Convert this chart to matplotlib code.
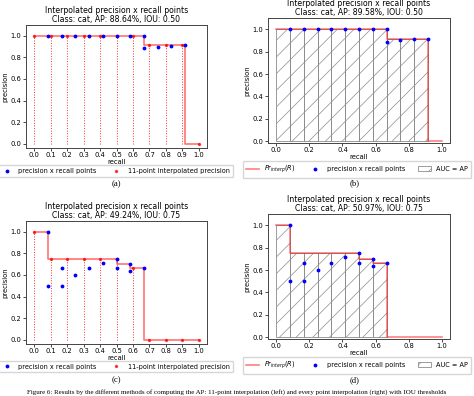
import numpy as np
import matplotlib
matplotlib.use('Agg')
import matplotlib.pyplot as plt

# ranked detections of class "cat" (12 ground truth boxes)
recall_iou50 = [0.0833, 0.1667, 0.25, 0.3333, 0.4167, 0.5, 0.5833, 0.6667,
                0.6667, 0.75, 0.8333, 0.9167]
precision_iou50 = [1.0, 1.0, 1.0, 1.0, 1.0, 1.0, 1.0, 1.0,
                   0.8889, 0.9, 0.9091, 0.9167]

recall_iou75 = [0.0833, 0.0833, 0.1667, 0.1667, 0.25, 0.3333, 0.4167, 0.5,
                0.5, 0.5833, 0.5833, 0.6667]
precision_iou75 = [1.0, 0.5, 0.6667, 0.5, 0.6, 0.6667, 0.7143, 0.75,
                   0.6667, 0.7, 0.6364, 0.6667]

ap_labels = ['88.64%', '89.58%', '49.24%', '50.97%']
iou_labels = ['0.50', '0.50', '0.75', '0.75']
panel_labels = ['(a)', '(b)', '(c)', '(d)']
eleven_ticks = [0.0, 0.1, 0.2, 0.3, 0.4, 0.5, 0.6, 0.7, 0.8, 0.9, 1.0]
ytick_vals = [0.0, 0.2, 0.4, 0.6, 0.8, 1.0]

plt.rcParams['hatch.linewidth'] = 0.5

TICK_FS = 4.9
TITLE_FS = 5.6
LEG_FS = 4.7


def interpCurve(rec, prec):
	rec = np.asarray(rec)
	prec = np.asarray(prec)
	ur = np.unique(rec)
	pi = np.array([prec[rec >= r].max() for r in ur])
	x = np.concatenate([[0.0], ur, [1.0]])
	y = np.concatenate([pi, [0.0, 0.0]])
	return x, y


def elevenPoint(rec, prec):
	rec = np.asarray(rec)
	prec = np.asarray(prec)
	vals = []
	for r in eleven_ticks:
		mask = rec >= r - 1e-9
		vals.append(prec[mask].max() if mask.any() else 0.0)
	return np.array(eleven_ticks), np.array(vals)


def styleAxes(ax, title):
	ax.set_title('Interpolated precision x recall points\n' + title,
		fontsize=TITLE_FS, pad=2, linespacing=1.1)
	ax.set_xlabel('recall', fontsize=TICK_FS, labelpad=0.5)
	ax.set_ylabel('precision', fontsize=TICK_FS, labelpad=1.5)
	ax.set_yticks(ytick_vals)
	ax.tick_params(labelsize=TICK_FS, length=2, width=0.5, pad=1.2)
	for s in ax.spines.values():
		s.set_linewidth(0.7)
		s.set_color('#444444')


def plotEleven(ax, rec, prec, title, legCenter):
	x, y = interpCurve(rec, prec)
	ax.plot(x, y, color='red', alpha=0.55, lw=1.2, drawstyle='steps-post')
	r11, p11 = elevenPoint(rec, prec)
	ax.vlines(r11, 0, p11, colors='red', linestyles=':', lw=0.7, alpha=0.8)
	ax.plot(rec, prec, '.', color='blue', ms=3.5,
		label='precision x recall points', zorder=4)
	ax.plot(r11, p11, '.', color='red', ms=2.8, alpha=0.7,
		label='11-point interpolated precision', zorder=3)
	ax.set_xticks(eleven_ticks)
	ax.set_xlim(-0.05, 1.05)
	ax.set_ylim(-0.04, 1.1)
	styleAxes(ax, title)
	ax.legend(loc='center', bbox_to_anchor=legCenter,
		bbox_transform=ax.figure.transFigure, ncol=2, fontsize=LEG_FS,
		borderpad=0.45, handletextpad=0.8, columnspacing=2.0,
		frameon=True, fancybox=True)


def plotEvery(ax, rec, prec, title, legCenter):
	x, y = interpCurve(rec, prec)
	bars = ax.bar(x[:-2], y[:-2], width=np.diff(x)[:-1], align='edge',
		fill=False, edgecolor='#8c8c8c', hatch='//', lw=0.6,
		label='AUC = AP', zorder=1)
	line, = ax.plot(x, y, color='red', alpha=0.5, lw=1.2,
		drawstyle='steps-post', label=r'$Pr_{interp}(R)$', zorder=2)
	pts, = ax.plot(rec, prec, '.', color='blue', ms=3.5,
		label='precision x recall points', zorder=4)
	ax.set_xlim(-0.05, 1.05)
	ax.set_ylim(-0.015, 1.1)
	ax.set_xticks([0.0, 0.2, 0.4, 0.6, 0.8, 1.0])
	styleAxes(ax, title)
	ax.legend([line, pts, bars], [line.get_label(), pts.get_label(), 'AUC = AP'],
		loc='center', bbox_to_anchor=legCenter,
		bbox_transform=ax.figure.transFigure, ncol=3, fontsize=LEG_FS,
		borderpad=0.45, handletextpad=0.8, columnspacing=2.0,
		frameon=True, fancybox=True)


W, H = 474.0, 396.0
fig = plt.figure(figsize=(4.74, 3.96), dpi=100)


def box(left, right, top, bottom):
	return [left / W, 1 - bottom / H, (right - left) / W, (bottom - top) / H]


axA = fig.add_axes(box(26, 207, 25, 148))
axB = fig.add_axes(box(268, 450, 18, 143))
axC = fig.add_axes(box(26, 207, 221, 344))
axD = fig.add_axes(box(268, 450, 214, 339))


def classTitle(i):
	return 'Class: cat, AP: ' + ap_labels[i] + ', IOU: ' + iou_labels[i]


plotEleven(axA, recall_iou50, precision_iou50, classTitle(0), (115 / W, 1 - 171 / H))
plotEvery(axB, recall_iou50, precision_iou50, classTitle(1), (357 / W, 1 - 169.5 / H))
plotEleven(axC, recall_iou75, precision_iou75, classTitle(2), (115 / W, 1 - 366.5 / H))
plotEvery(axD, recall_iou75, precision_iou75, classTitle(3), (357 / W, 1 - 365.5 / H))

capPos = [(116, 184.5), (355, 183.5), (116, 380), (355, 380)]
for lab, (cx, cy) in zip(panel_labels, capPos):
	fig.text(cx / W, 1 - cy / H, lab, ha='center', va='center',
		fontsize=6.2, family='Liberation Serif')

fig.text(237 / W, 1 - 392 / H,
	'Figure 6: Results by the different methods of computing the AP: '
	'11-point interpolation (left) and every point interpolation (right) '
	'with IOU thresholds',
	ha='center', va='center', fontsize=5.0, family='Liberation Serif')

fig.savefig('out.png', dpi=100)
